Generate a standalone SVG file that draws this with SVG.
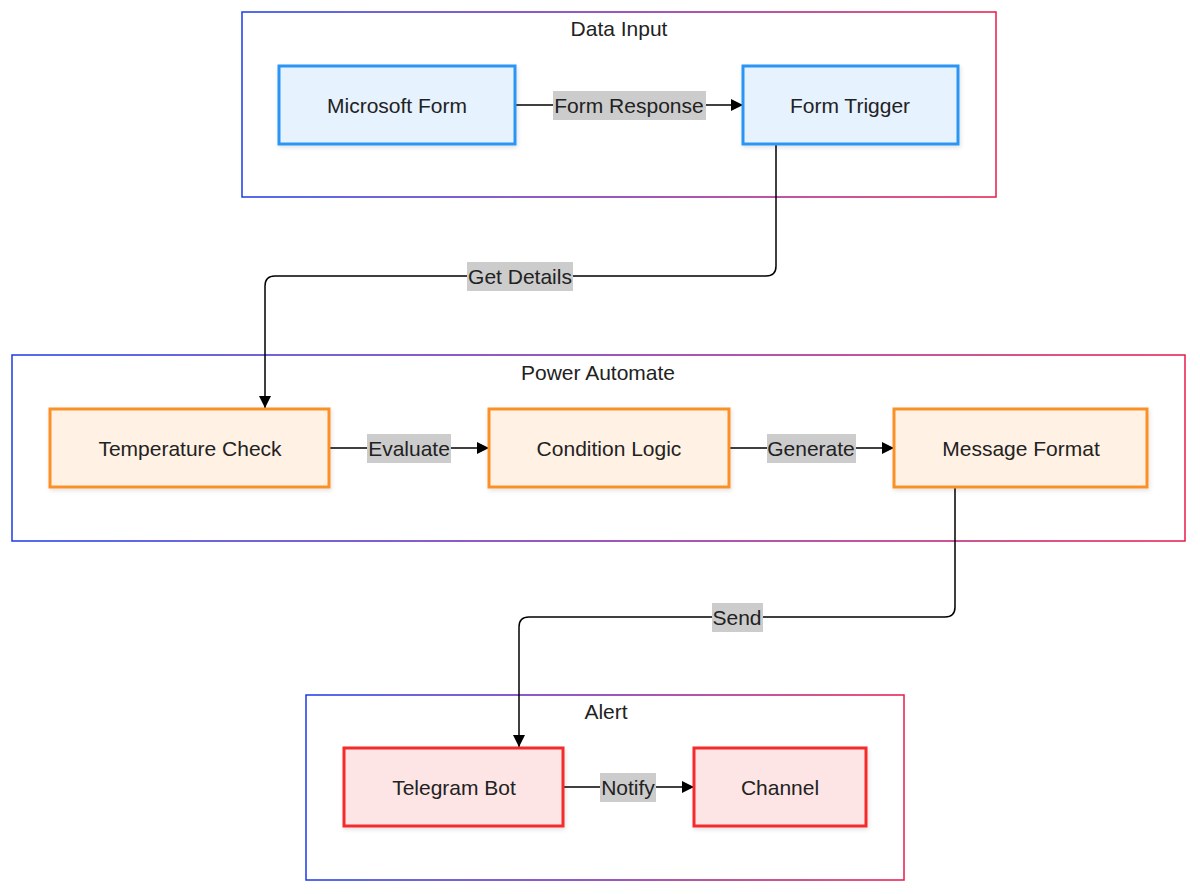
<svg xmlns="http://www.w3.org/2000/svg" width="1200" height="894" viewBox="0 0 1200 894">
<defs>
<linearGradient id="cg" x1="0" y1="0" x2="1" y2="0"><stop offset="0" stop-color="#1a3be8"/><stop offset="0.5" stop-color="#7a1fa8"/><stop offset="1" stop-color="#e8194a"/></linearGradient>
<marker id="ah" viewBox="0 0 10 10" refX="10" refY="5" markerWidth="12" markerHeight="12" markerUnits="userSpaceOnUse" orient="auto"><path d="M0,0L10,5L0,10z" fill="#000"/></marker>
<filter id="sh" x="-10%" y="-10%" width="120%" height="130%"><feDropShadow dx="1" dy="2" stdDeviation="2" flood-color="#000" flood-opacity="0.12"/></filter>
<style>
text{font-family:"Liberation Sans",Arial,sans-serif;font-size:21px;fill:#222;text-anchor:middle;dominant-baseline:central}
.cl{fill:#fff;stroke:url(#cg);stroke-width:1.5}
.b{fill:#e6f2fd;stroke:#2b95f5;stroke-width:3}
.o{fill:#fff1e4;stroke:#fb9128;stroke-width:3}
.r{fill:#fde5e5;stroke:#f52a2a;stroke-width:3}
.e{fill:none;stroke:#000;stroke-width:1.5}
.lb{fill:#cccccc}
</style>
</defs>
<rect width="1200" height="894" fill="#fff"/>
<g id="cluster-data-input"><rect class="cl" x="242" y="12" width="754" height="185"/><text x="619" y="28">Data Input</text></g>
<g id="cluster-power-automate"><rect class="cl" x="12" y="355" width="1173" height="186"/><text x="598" y="372">Power Automate</text></g>
<g id="cluster-alert"><rect class="cl" x="306" y="695" width="598" height="185"/><text x="606" y="711">Alert</text></g>
<g id="connectors">
<path class="e" d="M515,105H743" marker-end="url(#ah)"/>
<rect class="lb" x="553" y="91" width="153" height="29"/><text x="629" y="105">Form Response</text>
<path class="e" d="M776,144V266Q776,276 766,276H275Q265,276 265,286V408" marker-end="url(#ah)"/>
<rect class="lb" x="467" y="262" width="106" height="29"/><text x="520" y="276">Get Details</text>
<path class="e" d="M329,448H489" marker-end="url(#ah)"/>
<rect class="lb" x="367" y="434" width="84" height="29"/><text x="409" y="448">Evaluate</text>
<path class="e" d="M729,448H894" marker-end="url(#ah)"/>
<rect class="lb" x="767" y="434" width="89" height="29"/><text x="811" y="448">Generate</text>
<path class="e" d="M955,487V607Q955,617 945,617H529Q519,617 519,627V747" marker-end="url(#ah)"/>
<rect class="lb" x="712" y="603" width="51" height="29"/><text x="737" y="617">Send</text>
<path class="e" d="M563,787H694" marker-end="url(#ah)"/>
<rect class="lb" x="600" y="773" width="56" height="29"/><text x="628" y="787">Notify</text>
</g>
<g id="node-microsoft-form"><rect class="b" filter="url(#sh)" x="279" y="66" width="236" height="78"/><text x="397" y="105">Microsoft Form</text></g>
<g id="node-form-trigger"><rect class="b" filter="url(#sh)" x="743" y="66" width="215" height="78"/><text x="850" y="105">Form Trigger</text></g>
<g id="node-temperature-check"><rect class="o" filter="url(#sh)" x="50" y="409" width="279" height="78"/><text x="190" y="448">Temperature Check</text></g>
<g id="node-condition-logic"><rect class="o" filter="url(#sh)" x="489" y="409" width="240" height="78"/><text x="609" y="448">Condition Logic</text></g>
<g id="node-message-format"><rect class="o" filter="url(#sh)" x="894" y="409" width="253" height="78"/><text x="1021" y="448">Message Format</text></g>
<g id="node-telegram-bot"><rect class="r" filter="url(#sh)" x="344" y="748" width="219" height="78"/><text x="454" y="787">Telegram Bot</text></g>
<g id="node-channel"><rect class="r" filter="url(#sh)" x="694" y="748" width="172" height="78"/><text x="780" y="787">Channel</text></g>
</svg>
